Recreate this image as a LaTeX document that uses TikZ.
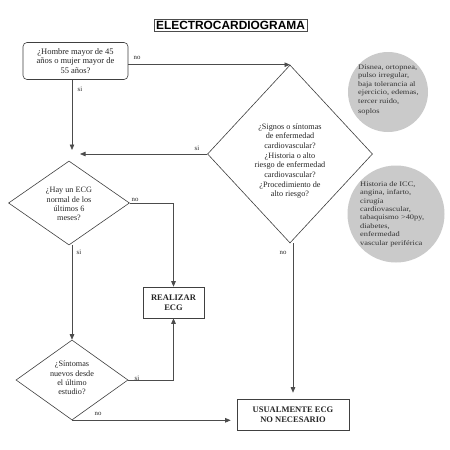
\documentclass[tikz,border=0pt]{standalone}
\usepackage{fontspec}
\setmainfont{Liberation Serif}
\newfontfamily\titlefont{Liberation Sans}
\newfontfamily\wideserif[FakeStretch=1.2]{Liberation Serif}
\usetikzlibrary{shapes.geometric,arrows.meta}
\begin{document}
\begin{tikzpicture}[x=1pt,y=-1pt,
 line/.style={draw=black!70,line width=0.7pt},
 arr/.style={line,-{Triangle[length=5.5pt,width=4.5pt]}},
 dia/.style={diamond,draw=black!75,line width=0.6pt,inner sep=0pt},
 txt/.style={align=center,text=black!85,inner sep=0pt},
 lbl/.style={font=\fontsize{6.8}{7}\selectfont,text=black!85,inner sep=0pt},
 blob/.style={circle,fill={rgb,255:red,202;green,202;blue,202},inner sep=0pt},
 blobtxt/.style={align=left,text=black!80,inner sep=0pt,anchor=west,font=\wideserif\fontsize{7}{8.4}\selectfont},
 endbox/.style={draw=black!75,line width=0.6pt,align=center,inner sep=0pt,font=\bfseries\fontsize{8.5}{10.5}\selectfont,text=black!85}
]
\fill[white] (0,0) rectangle (450,450);
\useasboundingbox (0,0) rectangle (450,450);
\node[draw=black!70,line width=0.6pt,inner xsep=2pt,inner ysep=1.5pt,font=\titlefont\bfseries\fontsize{11.9}{12}\selectfont] (title) at (230.5,25.5) {ELECTROCARDIOGRAMA};
\node[draw=black!75,line width=0.6pt,rounded corners=4pt,minimum width=105pt,minimum height=37pt,txt,font=\fontsize{8.5}{9.8}\selectfont] (q1) at (75.5,61) {¿Hombre mayor de 45\\años o mujer mayor de\\55 años?};
\node[dia,minimum width=165pt,minimum height=178pt] (d1) at (290,154) {};
\node[txt,font=\fontsize{8.2}{9.7}\selectfont] (d1t) at (290,161) {¿Signos o síntomas\\de enfermedad\\cardiovascular?\\¿Historia o alto\\riesgo de enfermedad\\cardiovascular?\\¿Procedimiento de\\alto riesgo?};
\node[blob,minimum size=80pt] (b1) at (388,92) {};
\node[blobtxt] (b1t) at (358,90) {Disnea, ortopnea,\\pulso irregular,\\baja tolerancia al\\ejercicio, edemas,\\tercer ruido,\\[2pt]soplos};
\node[blob,minimum size=97pt] (b2) at (396,214) {};
\node[blobtxt] (b2t) at (360,214) {Historia de ICC,\\angina, infarto,\\cirugía\\cardiovascular,\\tabaquismo >40py,\\diabetes,\\enfermedad\\vascular periférica};
\node[dia,minimum width=121pt,minimum height=84pt] (d2) at (69,203) {};
\node[txt,font=\fontsize{8.2}{9.3}\selectfont] (d2t) at (69,204) {¿Hay un ECG\\normal de los\\últimos 6\\meses?};
\node[dia,minimum width=112pt,minimum height=80pt] (d3) at (72,380) {};
\node[txt,font=\fontsize{8.2}{9.3}\selectfont] (d3t) at (72,378) {¿Síntomas\\nuevos desde\\el último\\estudio?};
\node[endbox,minimum width=61pt,minimum height=31pt] (r) at (173.5,302.5) {REALIZAR\\ECG};
\node[endbox,minimum width=112pt,minimum height=31pt] (u) at (293,414.5) {USUALMENTE ECG\\NO NECESARIO};
\coordinate (c1) at (80,153);
\coordinate (c2) at (72,150);
\draw[arr] (q1.east |- d1.north) -- (d1.north);
\draw[arr] (c2 |- q1.south) -- (c2);
\draw[arr] (d1.west) -- (d1.west -| c1);
\draw[arr] (d2.east) -| (r.north);
\draw[arr] (d3.north |- d2.south) -- (d3.north);
\draw[arr] (d3.east) -| (r.south);
\draw[arr] (d3.south) -- ([xshift=-6pt]d3.south -| u.west);
\draw[arr] (d1.south -| u.north) -- ([yshift=6pt]u.north);
\node[lbl] (l1) at (137,58) {no};
\node[lbl] (l2) at (80,89) {si};
\node[lbl] (l3) at (197,148) {si};
\node[lbl] (l4) at (135,200) {no};
\node[lbl] (l5) at (79,252) {si};
\node[lbl] (l6) at (137,378) {si};
\node[lbl] (l7) at (98,414) {no};
\node[lbl] (l8) at (283,253) {no};
\end{tikzpicture}
\end{document}
